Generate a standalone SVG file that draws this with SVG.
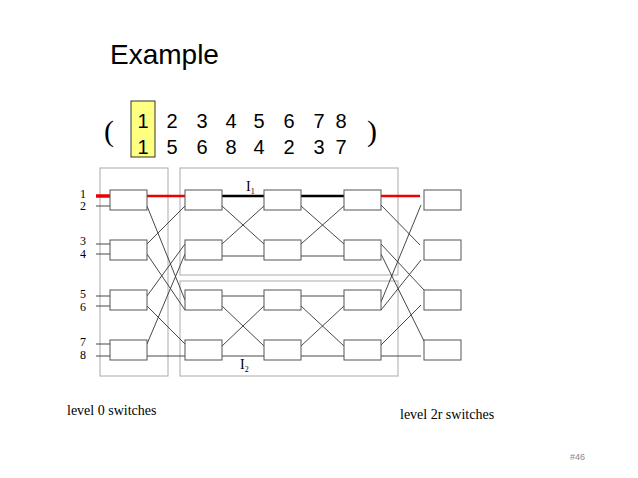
<svg xmlns="http://www.w3.org/2000/svg" width="638" height="478" viewBox="0 0 638 478">
<style>
.b{fill:#fff;stroke:#555;stroke-width:1}
.f{fill:none;stroke:#aaa;stroke-width:1}
.w{stroke:#333;stroke-width:0.9;fill:none}
.t{font-family:"Liberation Serif",serif;font-size:14px;fill:#000}
.p{font-family:"Liberation Serif",serif;font-size:12px;fill:#000}
.n{font-family:"Liberation Sans",sans-serif;font-size:20px;fill:#000}
</style>
<rect width="638" height="478" fill="#fff"/>
<text x="110" y="64" font-family="Liberation Sans,sans-serif" font-size="28">Example</text>
<rect x="131" y="101" width="24" height="56" fill="#ffff80" stroke="#333"/>
<text x="104" y="141" font-family="Liberation Serif,serif" font-size="30">(</text>
<text x="367" y="141" font-family="Liberation Serif,serif" font-size="30">)</text>
<g class="n" text-anchor="middle">
<text x="143" y="128">1</text><text x="172" y="128">2</text><text x="202" y="128">3</text><text x="231" y="128">4</text><text x="259" y="128">5</text><text x="289" y="128">6</text><text x="319" y="128">7</text><text x="341" y="128">8</text>
<text x="143" y="154">1</text><text x="172" y="154">5</text><text x="202" y="154">6</text><text x="231" y="154">8</text><text x="259" y="154">4</text><text x="289" y="154">2</text><text x="319" y="154">3</text><text x="341" y="154">7</text>
</g>
<rect class="f" x="100" y="168" width="68" height="208"/>
<rect class="f" x="180" y="168" width="218" height="107"/>
<rect class="f" x="180" y="281" width="218" height="95"/>
<g id="connectors">
<line x1="96" y1="196" x2="110" y2="196" stroke="#e00" stroke-width="3.5"/>
<g class="w">
<line x1="96" y1="206" x2="110" y2="206"/>
<line x1="96" y1="244" x2="110" y2="244"/><line x1="96" y1="254" x2="110" y2="254"/>
<line x1="96" y1="296" x2="110" y2="296"/><line x1="96" y1="306" x2="110" y2="306"/>
<line x1="96" y1="344" x2="110" y2="344"/><line x1="96" y1="356" x2="110" y2="356"/>
<line x1="147" y1="206" x2="185" y2="300"/>
<line x1="147" y1="244" x2="185" y2="206"/>
<line x1="147" y1="254" x2="185" y2="310"/>
<line x1="147" y1="296" x2="185" y2="244"/>
<line x1="147" y1="306" x2="185" y2="344"/>
<line x1="147" y1="344" x2="185" y2="254"/>
<line x1="147" y1="356" x2="185" y2="356"/>
<line x1="222" y1="206" x2="264" y2="244"/>
<line x1="222" y1="244" x2="264" y2="206"/>
<line x1="222" y1="256" x2="264" y2="256"/>
<line x1="222" y1="296" x2="264" y2="296"/>
<line x1="222" y1="306" x2="264" y2="346"/>
<line x1="222" y1="346" x2="264" y2="306"/>
<line x1="222" y1="356" x2="264" y2="356"/>
<line x1="301" y1="206" x2="344" y2="244"/>
<line x1="301" y1="244" x2="344" y2="206"/>
<line x1="301" y1="256" x2="344" y2="256"/>
<line x1="301" y1="296" x2="344" y2="296"/>
<line x1="301" y1="306" x2="344" y2="346"/>
<line x1="301" y1="346" x2="344" y2="306"/>
<line x1="301" y1="356" x2="344" y2="356"/>
<line x1="381" y1="205" x2="420" y2="245"/>
<line x1="381" y1="244" x2="424" y2="290"/>
<line x1="381" y1="254" x2="424" y2="341"/>
<line x1="381" y1="302" x2="421" y2="205"/>
<line x1="381" y1="310" x2="421" y2="260"/>
<line x1="381" y1="345" x2="421" y2="305"/>
<line x1="381" y1="356" x2="421" y2="356"/>
</g>
<line x1="147" y1="196" x2="185" y2="196" stroke="#e00" stroke-width="2.5"/>
<line x1="222" y1="196" x2="264" y2="196" stroke="#000" stroke-width="2.5"/>
<line x1="301" y1="196" x2="344" y2="196" stroke="#000" stroke-width="2.5"/>
<line x1="381" y1="196" x2="420" y2="196" stroke="#e00" stroke-width="2.5"/>
</g>
<g id="col0"><rect class="b" x="110" y="190" width="37" height="20"/><rect class="b" x="110" y="240" width="37" height="20"/><rect class="b" x="110" y="290" width="37" height="20"/><rect class="b" x="110" y="340" width="37" height="20"/></g>
<g id="col1"><rect class="b" x="185" y="190" width="37" height="20"/><rect class="b" x="185" y="240" width="37" height="20"/><rect class="b" x="185" y="290" width="37" height="20"/><rect class="b" x="185" y="340" width="37" height="20"/></g>
<g id="col2"><rect class="b" x="264" y="190" width="37" height="20"/><rect class="b" x="264" y="240" width="37" height="20"/><rect class="b" x="264" y="290" width="37" height="20"/><rect class="b" x="264" y="340" width="37" height="20"/></g>
<g id="col3"><rect class="b" x="344" y="190" width="37" height="20"/><rect class="b" x="344" y="240" width="37" height="20"/><rect class="b" x="344" y="290" width="37" height="20"/><rect class="b" x="344" y="340" width="37" height="20"/></g>
<g id="col4"><rect class="b" x="424" y="190" width="37" height="20"/><rect class="b" x="424" y="240" width="37" height="20"/><rect class="b" x="424" y="290" width="37" height="20"/><rect class="b" x="424" y="340" width="37" height="20"/></g>
<g class="p" text-anchor="middle">
<text x="83" y="198">1</text><text x="83" y="210">2</text>
<text x="83" y="245">3</text><text x="83" y="258">4</text>
<text x="83" y="298">5</text><text x="83" y="311">6</text>
<text x="83" y="346">7</text><text x="83" y="359">8</text>
</g>
<text class="t" x="246" y="191">I<tspan font-size="8" dy="3">1</tspan></text>
<text class="t" x="240" y="369">I<tspan font-size="8" dy="3">2</tspan></text>
<text class="t" x="67" y="415">level  0 switches</text>
<text class="t" x="400" y="419">level 2r switches</text>
<text x="570" y="460" font-family="Liberation Sans,sans-serif" font-size="9" fill="#888">#46</text>
</svg>
